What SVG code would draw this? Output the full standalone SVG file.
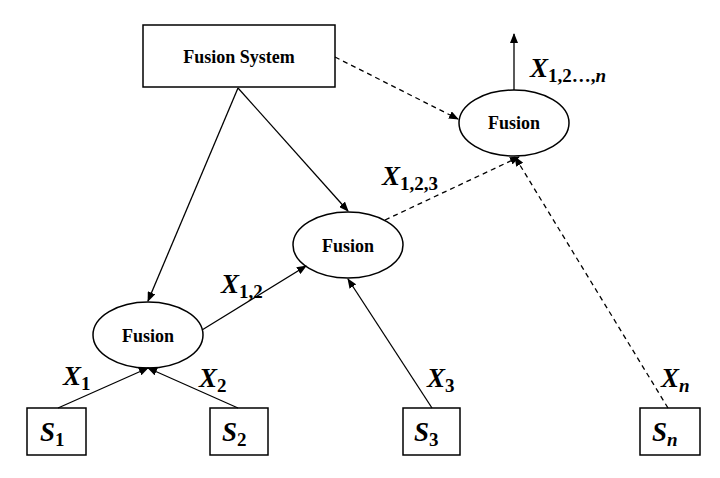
<svg xmlns="http://www.w3.org/2000/svg" width="720" height="478" viewBox="0 0 720 478">
<style>
.n{fill:#fff;stroke:#000;stroke-width:1.5}
.l{stroke:#000;stroke-width:1.3;fill:none;marker-end:url(#a)}
.d{stroke-dasharray:5,4}
.t{font-family:"Liberation Serif",serif;font-weight:bold;font-size:18px;text-anchor:middle}
.m{font-family:"Liberation Serif",serif;font-weight:bold;font-style:italic;font-size:27px}
.s{font-style:normal;font-size:19px}
.si{font-size:19px}
</style>
<defs><marker id="a" markerWidth="10" markerHeight="8" refX="9" refY="4" orient="auto" markerUnits="userSpaceOnUse"><path d="M0,0L10,4L0,8z"/></marker></defs>
<g id="fs"><rect class="n" x="143" y="25" width="192" height="62"/><text class="t" x="239" y="63" font-size="20">Fusion System</text></g>
<g id="f3"><ellipse class="n" cx="514" cy="123" rx="55" ry="33"/><text class="t" x="514" y="129">Fusion</text></g>
<g id="f2"><ellipse class="n" cx="348" cy="245" rx="55" ry="33"/><text class="t" x="348" y="252">Fusion</text></g>
<g id="f1"><ellipse class="n" cx="148" cy="335" rx="55" ry="33"/><text class="t" x="148" y="342">Fusion</text></g>
<g id="s1"><rect class="n" x="27" y="408" width="59" height="47"/><text class="m" x="40" y="441">S<tspan class="s" dy="5">1</tspan></text></g>
<g id="s2"><rect class="n" x="210" y="408" width="58" height="47"/><text class="m" x="222" y="441">S<tspan class="s" dy="5">2</tspan></text></g>
<g id="s3"><rect class="n" x="403" y="408" width="57" height="47"/><text class="m" x="414" y="441">S<tspan class="s" dy="5">3</tspan></text></g>
<g id="sn"><rect class="n" x="640" y="408" width="60" height="47"/><text class="m" x="652" y="441">S<tspan class="si" dy="5">n</tspan></text></g>
<g id="edges">
<line class="l" x1="238" y1="88" x2="148" y2="301"/>
<line class="l" x1="238" y1="88" x2="348" y2="211"/>
<line class="l d" x1="335" y1="57" x2="458" y2="119"/>
<line class="l" x1="58" y1="408" x2="148" y2="368"/>
<line class="l" x1="238" y1="408" x2="148" y2="368"/>
<line class="l" x1="202" y1="330" x2="306" y2="266"/>
<line class="l" x1="432" y1="408" x2="348" y2="279"/>
<line class="l d" x1="385" y1="220" x2="519" y2="157"/>
<line class="l d" x1="668" y1="408" x2="515" y2="157"/>
<line class="l" x1="514" y1="90" x2="514" y2="34"/>
</g>
<g id="labels">
<text class="m" x="530" y="77">X<tspan class="s" dy="5">1,2…,</tspan><tspan class="si">n</tspan></text>
<text class="m" x="382" y="185">X<tspan class="s" dy="5">1,2,3</tspan></text>
<text class="m" x="221" y="293">X<tspan class="s" dy="5">1,2</tspan></text>
<text class="m" x="63" y="385">X<tspan class="s" dy="5">1</tspan></text>
<text class="m" x="199" y="387">X<tspan class="s" dy="5">2</tspan></text>
<text class="m" x="427" y="387">X<tspan class="s" dy="5">3</tspan></text>
<text class="m" x="661" y="387">X<tspan class="si" dy="5">n</tspan></text>
</g>
</svg>
